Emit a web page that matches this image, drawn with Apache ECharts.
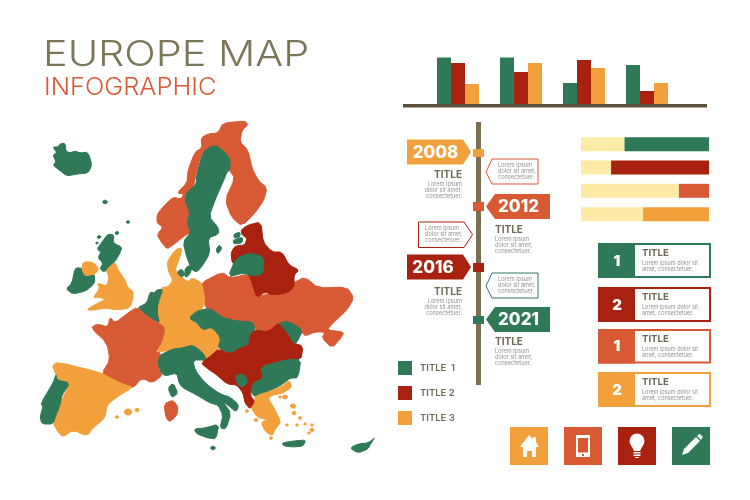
<!DOCTYPE html>
<html>
<head>
<meta charset="utf-8">
<title>Europe Map Infographic</title>
<script src="https://cdn.jsdelivr.net/npm/echarts@6/dist/echarts.min.js"></script>
<style>
  html, body { margin: 0; padding: 0; background: #fff; }
  #main { width: 750px; height: 500px; }
</style>
</head>
<body>
<div id="main"></div>
<script>
const GREEN = '#2f7858';
const RED = '#a8220f';
const CORAL = '#d85a35';
const ORANGE = '#f2a03c';
const CREAM = '#fdeaa6';
const BROWN = '#7b6f52';
const TITLE_COLOR = '#6f6b55';
const BODY_COLOR = '#94918a';
const FONT = 'Inter';

// top bar chart
const barCategories = ['A', 'B', 'C', 'D'];
const barGreen = [46.5, 46.5, 21, 39];
const barRed = [41, 32, 44, 13];
const barOrange = [20, 41, 36, 21];

// horizontal progress bars
const progressRows = ['1', '2', '3', '4'];
const progressDone = [34, 23.5, 76.5, 48.5];
const progressRest = [66, 76.5, 23.5, 51.5];
const progressColors = [GREEN, RED, CORAL, ORANGE];

// timeline
const years = ['2008', '2012', '2016', '2021'];
const yearColors = [ORANGE, CORAL, RED, GREEN];
const legendNames = ['TITLE  1', 'TITLE 2', 'TITLE 3'];
const legendColors = [GREEN, RED, ORANGE];
const cardNumbers = ['1', '2', '1', '2'];
const cardColors = [GREEN, RED, CORAL, ORANGE];
const lorem3 = ['Lorem ipsum', 'dolor sit amet,', 'consectetuer.'];
const lorem2 = ['Lorem ipsum dolor sit', 'amet, consectetuer.'];

// which region gets which colour
const greenRegions = ['Sweden', 'Iceland', 'Ireland', 'Scotland', 'Benelux', 'Portugal', 'Italy', 'Corsica', 'Sicily',
  'Lithuania', 'Czechia', 'Moldova', 'Kosovo', 'Bulgaria', 'Crete', 'Cyprus', 'GreenIslets'];
const redRegions = ['Belarus', 'Romania'];
const coralRegions = ['Scandinavia', 'France', 'Sardinia', 'Ukraine'];
const orangeRegions = ['Spain', 'England', 'Ulster', 'Germany', 'Greece', 'OrangeIslets'];

function dot(x, y, r) {
  const ring = [];
  for (let i = 0; i < 8; i++) {
    ring.push([x + r * Math.cos(i * Math.PI / 4), y + r * 0.8 * Math.sin(i * Math.PI / 4)]);
  }
  return ring;
}

// outlines, in picture pixels. later ones paint over earlier ones
const outlines = {
  Scandinavia: [[[157,215],[162,208],[173,197],[181,199],[184,194],[177,193],[187,183],[188,170],[195,152],[202,148],[201,138],[208,134],[218,133],[223,123],[245,121],[248,125],[242,130],[240,142],[248,150],[252,168],[258,180],[267,188],[264,200],[255,213],[242,226],[232,218],[225,200],[235,178],[229,170],[229,158],[218,147],[212,147],[202,153],[198,165],[192,193],[186,200],[190,213],[187,223],[191,232],[183,237],[173,245],[167,249],[162,243],[157,235],[163,227],[157,223]]],
  Sweden: [[[203,152],[212,146],[218,146],[230,158],[230,170],[227,172],[223,182],[215,200],[209,217],[218,227],[219,234],[208,238],[210,253],[203,265],[197,272],[192,270],[187,258],[183,242],[191,232],[187,223],[190,213],[185,200],[187,192],[196,185],[197,173]],
    [[219,245],[222,248],[218,254],[216,250]], [[234,234],[240,232],[240,237],[234,238]], [[233,240],[243,237],[242,243],[234,244]]],
  Iceland: [[[53,147],[58,147],[60,144],[65,143],[66,151],[70,153],[75,151],[80,153],[88,152],[92,165],[88,173],[77,174],[67,176],[59,170],[53,165],[56,162],[53,155],[57,153]]],
  Scotland: [[[108,234],[114,235],[113,243],[122,247],[120,253],[116,260],[110,267],[104,272],[100,269],[103,263],[98,258],[101,252],[97,249],[102,242]]],
  England: [[[115,262],[118,270],[124,278],[128,288],[133,291],[133,298],[130,308],[117,310],[105,308],[95,310],[86,310],[98,303],[106,299],[98,297],[93,298],[100,288],[97,283],[107,286],[109,277],[106,270]]],
  Ireland: [[[75,268],[82,268],[84,275],[94,273],[95,283],[86,291],[73,294],[66,289],[72,283]]],
  Ulster: [[[83,262],[93,262],[99,269],[95,274],[85,276],[82,270]]],
  Ukraine: [[[201,283],[222,272],[230,278],[249,274],[252,282],[257,297],[272,293],[293,283],[305,277],[318,288],[347,287],[354,298],[347,310],[333,323],[327,330],[344,332],[341,338],[332,348],[322,338],[325,332],[315,332],[305,336],[302,332],[280,323],[268,332],[255,330],[253,322],[237,321],[223,318],[210,309],[205,307],[202,290]]],
  Belarus: [[[242,235],[241,230],[248,225],[261,222],[263,242],[272,252],[282,252],[289,265],[299,270],[294,275],[294,287],[287,293],[273,295],[265,292],[257,298],[252,283],[249,275],[235,265],[232,262],[231,253],[235,246],[245,245],[247,238]]],
  Lithuania: [[[236,258],[250,253],[264,257],[263,274],[253,276],[243,273],[228,277]]],
  Germany: [[[177,249],[182,248],[180,257],[177,265],[175,270],[182,277],[187,282],[193,278],[202,283],[205,300],[203,308],[190,318],[197,325],[205,327],[212,327],[222,338],[219,348],[210,361],[202,361],[193,347],[175,350],[155,352],[162,342],[165,328],[160,323],[157,313],[158,303],[162,287],[168,287],[173,280],[169,273],[167,262],[173,253]]],
  Benelux: [[[163,289],[158,303],[157,313],[160,324],[148,317],[137,308],[147,303],[150,292],[154,293],[157,290]]],
  France: [[[137,307],[148,317],[159,323],[165,328],[162,342],[155,352],[161,353],[159,367],[163,375],[152,383],[142,378],[133,388],[125,385],[110,378],[102,373],[110,360],[107,343],[91,328],[97,324],[108,327],[110,317],[115,323],[128,313]]],
  Spain: [[[52,366],[58,362],[102,373],[110,378],[125,385],[133,387],[117,397],[107,405],[105,418],[93,428],[87,436],[73,430],[63,437],[58,432],[53,423],[57,413],[60,405],[69,384],[57,380],[56,374]]],
  Portugal: [[[56,374],[57,380],[70,383],[62,395],[60,405],[56,415],[53,424],[42,424],[40,417],[43,407],[41,403],[53,383]]],
  Corsica: [[[173,383],[178,393],[172,398],[168,388]]],
  Sardinia: [[[164,404],[173,400],[178,407],[177,415],[170,422],[166,418]]],
  Italy: [[[160,355],[173,349],[182,348],[193,345],[202,352],[207,360],[193,360],[195,370],[205,383],[220,394],[230,397],[239,405],[236,412],[229,406],[223,402],[231,413],[226,429],[220,428],[223,415],[218,405],[210,403],[195,394],[183,388],[179,383],[177,373],[165,376],[161,372],[158,363]]],
  Sicily: [[[194,429],[205,428],[219,424],[216,439],[208,438],[197,434]], dot(213, 448, 2.4)],
  Czechia: [[[189,318],[197,311],[210,308],[223,318],[237,321],[253,322],[255,330],[250,335],[249,345],[240,348],[230,354],[218,348],[221,338],[212,327],[203,330],[197,323]]],
  Romania: [[[255,330],[268,332],[280,322],[288,333],[293,343],[303,346],[301,360],[285,360],[260,367],[264,378],[253,383],[250,395],[256,403],[250,409],[245,403],[243,393],[237,385],[227,384],[217,375],[208,369],[201,363],[212,355],[218,349],[230,354],[240,348],[249,345],[250,335]]],
  Moldova: [[[279,323],[288,321],[303,330],[296,344],[293,342],[288,333]]],
  Kosovo: [[[236,375],[244,374],[248,382],[242,388],[236,382]]],
  Bulgaria: [[[260,367],[285,360],[301,359],[298,378],[290,378],[283,384],[268,392],[255,397],[251,392],[253,383],[264,378]]],
  Greece: [[[255,396],[268,392],[283,386],[289,380],[292,387],[283,393],[273,395],[268,398],[274,408],[281,422],[276,428],[272,436],[265,431],[261,422],[270,419],[258,418],[251,408],[255,403]]],
  Crete: [[[282,443],[293,441],[306,440],[303,446],[293,447],[284,446]]],
  Cyprus: [[[350,448],[358,444],[368,443],[376,437],[371,443],[368,449],[358,453]]],
  GreenIslets: [dot(105, 202, 2.4), dot(128, 222, 1.8), dot(99, 237, 2), dot(97, 243, 1.4), dot(117, 233, 2),
    [[177,272],[182,269],[185,275],[181,277]], [[185,268],[193,264],[190,274],[185,278]]],
  OrangeIslets: [dot(128, 412, 4), dot(137, 410, 2.2), dot(117, 417, 1.8), dot(285, 397, 2.6), dot(293, 406, 2.8), dot(294, 413, 2.2), dot(300, 418, 1.8),
    dot(287, 425, 1.5), dot(297, 425, 1.5), dot(305, 424, 1.5), dot(312, 425, 1.5), dot(312, 430, 2.2), dot(309, 433, 1.5), dot(271, 438, 1.8), dot(247, 411, 1.8), dot(256, 420, 2), dot(280, 397, 1.5)]
};

// round the traced corners a little so coasts do not look like cut paper
function rounded(ring) {
  const pts = [];
  ring.forEach((a, i) => {
    const b = ring[(i + 1) % ring.length];
    pts.push([a[0] * 0.8 + b[0] * 0.2, a[1] * 0.8 + b[1] * 0.2]);
    pts.push([a[0] * 0.2 + b[0] * 0.8, a[1] * 0.2 + b[1] * 0.8]);
  });
  return pts.concat([pts[0]]);
}

const features = Object.keys(outlines).map(name => ({
  type: 'Feature',
  properties: { name },
  geometry: { type: 'MultiPolygon', coordinates: outlines[name].map(ring => [rounded(ring)]) }
}));
echarts.registerMap('europe', { type: 'FeatureCollection', features });

const regionGroups = [[greenRegions, GREEN], [redRegions, RED], [coralRegions, CORAL], [orangeRegions, ORANGE]];
const mapData = [];
regionGroups.forEach(([names, color]) => {
  names.forEach(name => mapData.push({ name, value: 1, itemStyle: { areaColor: color, color, borderColor: color, borderWidth: 1 } }));
});

// ---- graphic helpers
function text(str, x, y, size, fill, weight, align, scaleX) {
  return {
    type: 'text',
    silent: true,
    x, y,
    scaleX: scaleX || 1,
    style: {
      text: str, x: 0, y: 0, fill,
      font: (weight || 400) + ' ' + size + 'px ' + FONT,
      textAlign: align || 'left',
      textVerticalAlign: 'middle'
    }
  };
}
function rect(x, y, width, height, fill, stroke) {
  return {
    type: 'rect', silent: true,
    shape: { x, y, width, height },
    style: stroke ? { fill, stroke, lineWidth: 2 } : { fill }
  };
}
function poly(points, fill, stroke) {
  return {
    type: 'polygon', silent: true,
    shape: { points },
    style: stroke ? { fill, stroke, lineWidth: 1 } : { fill }
  };
}

const g = [];
g.push(text('EUROPE MAP', 43, 55, 36, '#7c7659', 300, 'left', 1.15));
g.push(text('INFOGRAPHIC', 44, 88, 24, CORAL, 300, 'left', 1.06));

// baseline under the bars
g.push(rect(403, 104, 304, 3.5, '#5b4f39'));

// timeline
g.push(rect(476, 122, 5, 263, BROWN));
[[149, 8], [202, 9], [263, 9], [316, 8]].forEach(([y, h], i) => g.push(rect(473, y, 11, h, yearColors[i])));

// year tags, left ones point right and right ones point left
function tagLeft(top, color, label, cx) {
  g.push(poly([[407, top], [463, top], [471, top + 12.5], [463, top + 25], [407, top + 25]], color));
  g.push(text(label, cx, top + 13, 17, '#fff', 800, 'center'));
}
function tagRight(top, color, label) {
  g.push(poly([[486, top + 12.5], [495, top], [550, top], [550, top + 25], [495, top + 25]], color));
  g.push(text(label, 518.5, top + 13, 17, '#fff', 800, 'center'));
}
tagLeft(139.5, yearColors[0], years[0], 435.5);
tagRight(194, yearColors[1], years[1]);
tagLeft(254.5, yearColors[2], years[2], 433);
tagRight(307, yearColors[3], years[3]);

function block(x, y, align) {
  g.push(text('TITLE', x, y, 10, TITLE_COLOR, 700, align));
  lorem3.forEach((line, i) => g.push(text(line, x, y + 9.5 + i * 6, 5.6, BODY_COLOR, 400, align)));
}
block(462, 175, 'right');
block(495, 230, 'left');
block(462, 292, 'right');
block(495, 342, 'left');

// little speech boxes
function calloutRight(top, color) {
  g.push(poly([[486, top + 13], [492, top], [538, top], [538, top + 25], [492, top + 25]], '#fff', color));
  lorem3.forEach((line, i) => g.push(text(line, 498, top + 6.5 + i * 6, 5.6, BODY_COLOR)));
}
calloutRight(159, CORAL);
calloutRight(273, GREEN);
g.push(poly([[418.5, 222], [464, 222], [472.5, 234.5], [464, 247.5], [418.5, 247.5]], '#fff', RED));
lorem3.forEach((line, i) => g.push(text(line, 425, 228 + i * 6, 5.6, BODY_COLOR)));

// legend
[361, 386, 411].forEach((y, i) => {
  g.push(rect(398, y, 14, 14, legendColors[i]));
  g.push(text(legendNames[i], 420, y + 7, 9.5, TITLE_COLOR, 600));
});

// number cards
[[243, 35], [287, 35], [329, 34.5], [372, 35]].forEach(([y, h], i) => {
  const c = cardColors[i];
  g.push(rect(599, y + 1, 111, h - 2, '#fff', c));
  g.push(rect(598, y, 37, h, c));
  g.push(text(cardNumbers[i], 617, y + h / 2 + 0.5, 15, '#fff', 900, 'center'));
  g.push(text('TITLE', 642, y + 10, 9.6, TITLE_COLOR, 700));
  lorem2.forEach((line, j) => g.push(text(line, 642, y + 20 + j * 6, 5.5, BODY_COLOR)));
});

// bottom icons
g.push(rect(510, 427, 38, 38, ORANGE));
g.push(rect(564, 427, 38, 38, CORAL));
g.push(rect(618, 427, 38, 38, RED));
g.push(rect(672, 427, 38, 38, GREEN));
g.push(poly([[529, 435], [533, 439], [533, 437], [536, 437], [536, 442], [539, 447], [536, 447], [536, 457], [532, 457], [532, 451], [527, 451], [527, 457], [523, 457], [523, 447], [520, 447]], '#fff'));
g.push(rect(576, 435, 14, 22, '#fff'));
g.push(rect(578, 438, 10, 14.5, CORAL));
g.push(rect(582, 454, 2, 2, CORAL));
g.push({ type: 'circle', silent: true, shape: { cx: 637, cy: 441, r: 7.5 }, style: { fill: '#fff' } });
g.push(poly([[631, 445], [643, 445], [640, 451], [634, 451]], '#fff'));
g.push(rect(633.5, 452, 7, 1.5, '#fff'));
g.push(rect(633.5, 454.5, 7, 1.5, '#fff'));
g.push(rect(635, 457, 4, 1, '#fff'));
g.push(poly([[682, 455], [684, 449], [696, 437], [700, 441], [688, 453]], '#fff'));
g.push(poly([[697, 436], [699, 434], [700, 434], [702.5, 436.5], [702.5, 437.5], [701, 440]], '#fff'));

const chart = echarts.init(document.getElementById('main'), null, { renderer: 'canvas' });

function topBar(name, data, color) {
  return {
    name, type: 'bar', xAxisIndex: 0, yAxisIndex: 0,
    data, barWidth: 14, barGap: 0, silent: true,
    itemStyle: { color }
  };
}

chart.setOption({
  animation: false,
  backgroundColor: '#fff',
  grid: [
    { left: 426.5, width: 252, top: 54, height: 50 },
    { left: 581, width: 128, top: 132.5, height: 93.3 }
  ],
  xAxis: [
    { type: 'category', gridIndex: 0, data: barCategories, show: false },
    { type: 'value', gridIndex: 1, min: 0, max: 100, show: false }
  ],
  yAxis: [
    { type: 'value', gridIndex: 0, min: 0, max: 50, show: false },
    { type: 'category', gridIndex: 1, data: progressRows, inverse: true, show: false }
  ],
  series: [
    {
      type: 'map',
      map: 'europe',
      projection: { project: p => p, unproject: p => p },
      boundingCoords: [[0, 0], [750, 500]],
      left: 0, top: 0, width: 750, height: 500,
      roam: false,
      silent: true,
      selectedMode: false,
      label: { show: false },
      emphasis: { disabled: true },
      itemStyle: { borderWidth: 0 },
      data: mapData
    },
    topBar('Title 1', barGreen, GREEN),
    topBar('Title 2', barRed, RED),
    topBar('Title 3', barOrange, ORANGE),
    {
      type: 'bar', xAxisIndex: 1, yAxisIndex: 1, stack: 'progress', barWidth: 14, silent: true,
      data: progressDone, itemStyle: { color: CREAM }
    },
    {
      type: 'bar', xAxisIndex: 1, yAxisIndex: 1, stack: 'progress', barWidth: 14, silent: true,
      data: progressRest.map((v, i) => ({ value: v, itemStyle: { color: progressColors[i] } }))
    }
  ],
  graphic: { elements: g }
});
</script>
</body>
</html>
